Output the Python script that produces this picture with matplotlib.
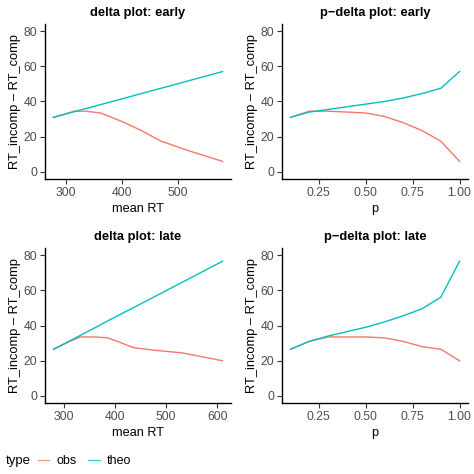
import matplotlib
matplotlib.use("Agg")
import matplotlib.pyplot as plt
from matplotlib.lines import Line2D

plt.rcParams["font.family"] = ["Liberation Sans", "DejaVu Sans"]

# ── data
p = [0.1, 0.2, 0.3, 0.4, 0.5, 0.6, 0.7, 0.8, 0.9, 1.0]

early_rt_obs = [278, 315, 335, 362, 382, 405, 435, 470, 520, 580]
early_rt_theo = [278, 313, 330, 348, 365, 383, 406, 435, 470, 580]
early_obs = [31, 34.5, 34.5, 34, 33.5, 31.5, 28, 23.5, 17.5, 6]
early_theo = [31, 34, 35.5, 37, 38.5, 40, 42, 44.5, 47.5, 57]

late_rt_obs = [280, 312, 332, 362, 385, 405, 435, 475, 530, 610]
late_rt_theo = [280, 310, 330, 346, 363, 382, 405, 432, 475, 610]
late_obs = [26.5, 31, 33.5, 33.5, 33.5, 33, 31, 28, 26.5, 20]
late_theo = [26.5, 31, 34, 36.5, 39, 42, 45.5, 49.5, 56, 76.5]

# delta plots (obs against its own mean RT)
early_obs_d = [31, 34.5, 34.5, 33.5, 31, 28, 23.5, 17.5, 12, 6]
late_obs_d = [26.5, 31, 33.5, 33.5, 33, 31, 27.5, 26, 24.5, 20]

OBS = "#F8766D"
THEO = "#00BFC4"

W = 474.0
fig = plt.figure(figsize=(4.74, 4.74), dpi=100)
fig.patch.set_facecolor("white")


def px_axes(left, top, right, bottom):
    return fig.add_axes([left / W, (W - bottom) / W, (right - left) / W, (bottom - top) / W])


def style_ax(ax, title, xlabel, xlim):
    ax.set_title(title, fontsize=9.3, fontweight="bold", pad=6)
    ax.set_xlabel(xlabel, fontsize=9.2, labelpad=3)
    ax.set_ylabel("RT_incomp \u2013 RT_comp", fontsize=9.3, labelpad=2)
    ax.set_ylim(-4, 84)
    ax.set_yticks([0, 20, 40, 60, 80])
    lo, hi = xlim
    pad = (hi - lo) * 0.05
    ax.set_xlim(lo - pad, hi + pad)
    ax.spines[["top", "right"]].set_visible(False)
    for s in ["left", "bottom"]:
        ax.spines[s].set_linewidth(1.0)
        ax.spines[s].set_color("black")
    ax.tick_params(axis="both", labelsize=8.8, labelcolor="#4D4D4D", color="#333333",
                   length=3.5, width=0.8, pad=2)


ax1 = px_axes(45, 24, 231, 179)
ax1.plot(early_rt_obs, early_obs_d, color=OBS, lw=1.0)
ax1.plot(early_rt_theo, early_theo, color=THEO, lw=1.0)
ax1.set_xticks([300, 400, 500])
style_ax(ax1, "delta plot: early", "mean RT", (278, 580))

ax2 = px_axes(282, 24, 468, 179)
ax2.plot(p, early_obs, color=OBS, lw=1.0)
ax2.plot(p, early_theo, color=THEO, lw=1.0)
ax2.set_xticks([0.25, 0.5, 0.75, 1.0])
ax2.set_xticklabels(["0.25", "0.50", "0.75", "1.00"])
style_ax(ax2, "p\u2212delta plot: early", "p", (0.1, 1.0))

ax3 = px_axes(45, 248, 231, 403)
ax3.plot(late_rt_obs, late_obs_d, color=OBS, lw=1.0)
ax3.plot(late_rt_theo, late_theo, color=THEO, lw=1.0)
ax3.set_xticks([300, 400, 500, 600])
style_ax(ax3, "delta plot: late", "mean RT", (280, 610))

ax4 = px_axes(282, 248, 468, 403)
ax4.plot(p, late_obs, color=OBS, lw=1.0)
ax4.plot(p, late_theo, color=THEO, lw=1.0)
ax4.set_xticks([0.25, 0.5, 0.75, 1.0])
ax4.set_xticklabels(["0.25", "0.50", "0.75", "1.00"])
style_ax(ax4, "p\u2212delta plot: late", "p", (0.1, 1.0))

# legend at bottom left
fig.text(6 / W, (W - 461) / W, "type", fontsize=9.5, va="center", ha="left")
handles = [Line2D([], [], color=OBS, lw=0.9, alpha=0.8), Line2D([], [], color=THEO, lw=0.9, alpha=0.8)]
fig.legend(handles, ["obs", "theo"], loc="center left", bbox_to_anchor=(38 / W, (W - 461) / W),
           ncol=2, frameon=False, fontsize=9, handlelength=0.9, handletextpad=0.6,
           columnspacing=0.9, borderaxespad=0, borderpad=0)

plt.savefig("out.png", dpi=100, facecolor="white")
